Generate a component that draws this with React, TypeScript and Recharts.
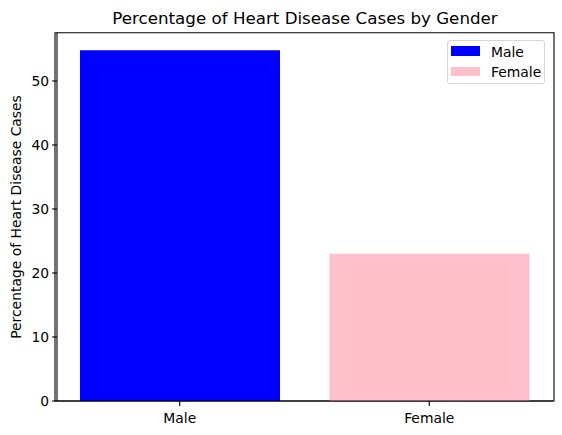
import React from 'react';
import { BarChart, Bar, XAxis, YAxis, Cell, Legend, Label, ReferenceArea } from 'recharts';

const categories = ['Male', 'Female'];
const percentages = [54.8, 23.0];
const colors = ['#0000ff', '#ffc0cb'];
const yTicks = [0, 10, 20, 30, 40, 50];
const yMax = 57.54;

const data = categories.map((name, i) => ({ name, value: percentages[i] }));

const FONT = 'DejaVu Sans, sans-serif';

const LegendBox = () => (
  <div
    style={{
      width: 98,
      height: 44,
      border: '1px solid #d6d6d6',
      borderRadius: 3,
      background: 'rgba(255,255,255,0.8)',
      fontFamily: FONT,
      fontSize: 13.9,
      color: '#000',
      boxSizing: 'border-box',
      position: 'relative',
    }}
  >
    {categories.map((c, i) => (
      <div key={c} style={{ position: 'absolute', left: 3, top: 5.5 + i * 20.7, height: 10, display: 'flex', alignItems: 'center' }}>
        <div style={{ width: 28.5, height: 9.5, background: colors[i] }} />
        <span style={{ marginLeft: 11.5, lineHeight: '10px', position: 'relative', top: 0.5 }}>{c}</span>
      </div>
    ))}
  </div>
);

export default function App() {
  return (
    <div style={{ position: 'absolute', left: 0, top: 0, background: '#fff' }}>
      <BarChart
        width={562}
        height={435}
        data={data}
        margin={{ top: 32.7, right: 9, bottom: 0, left: 0 }}
        barSize={200}
      >
        <XAxis
          dataKey="name"
          height={34}
          padding={{ left: -2, right: -1 }}
          axisLine={{ stroke: '#000', strokeWidth: 1.1 }}
          tickLine={{ stroke: '#000', strokeWidth: 1.1 }}
          tickSize={4.9}
          tickMargin={7}
          tick={{ fill: '#000', fontSize: 13.9, fontFamily: FONT }}
        >
          <Label
            content={() => (
              <text x={305} y={24} textAnchor="middle" fontSize={16.7} fontFamily={FONT} fill="#000">
                Percentage of Heart Disease Cases by Gender
              </text>
            )}
          />
        </XAxis>
        <YAxis
          width={57}
          domain={[0, yMax]}
          ticks={yTicks}
          axisLine={{ stroke: '#000', strokeWidth: 1.1 }}
          tickLine={{ stroke: '#000', strokeWidth: 1.1 }}
          tickSize={4.9}
          tickMargin={3}
          tick={{ fill: '#000', fontSize: 13.9, fontFamily: FONT }}
        >
          <Label
            content={() => (
              <text
                x={21}
                y={217}
                transform="rotate(-90 21 217)"
                textAnchor="middle"
                fontSize={13.9}
                fontFamily={FONT}
                fill="#000"
              >
                Percentage of Heart Disease Cases
              </text>
            )}
          />
        </YAxis>
        <Bar dataKey="value" isAnimationActive={false}>
          {data.map((d, i) => (
            <Cell key={d.name} fill={colors[i]} />
          ))}
        </Bar>
        <ReferenceArea y1={0} y2={yMax} fill="#fff" fillOpacity={0} stroke="#000" strokeWidth={1.1} ifOverflow="visible" />
        <Legend
          layout="vertical"
          align="center"
          verticalAlign="middle"
          content={() => <LegendBox />}
          wrapperStyle={{ position: 'absolute', left: 447, top: 39.5, width: 100, height: 46 }}
        />
      </BarChart>
    </div>
  );
}
